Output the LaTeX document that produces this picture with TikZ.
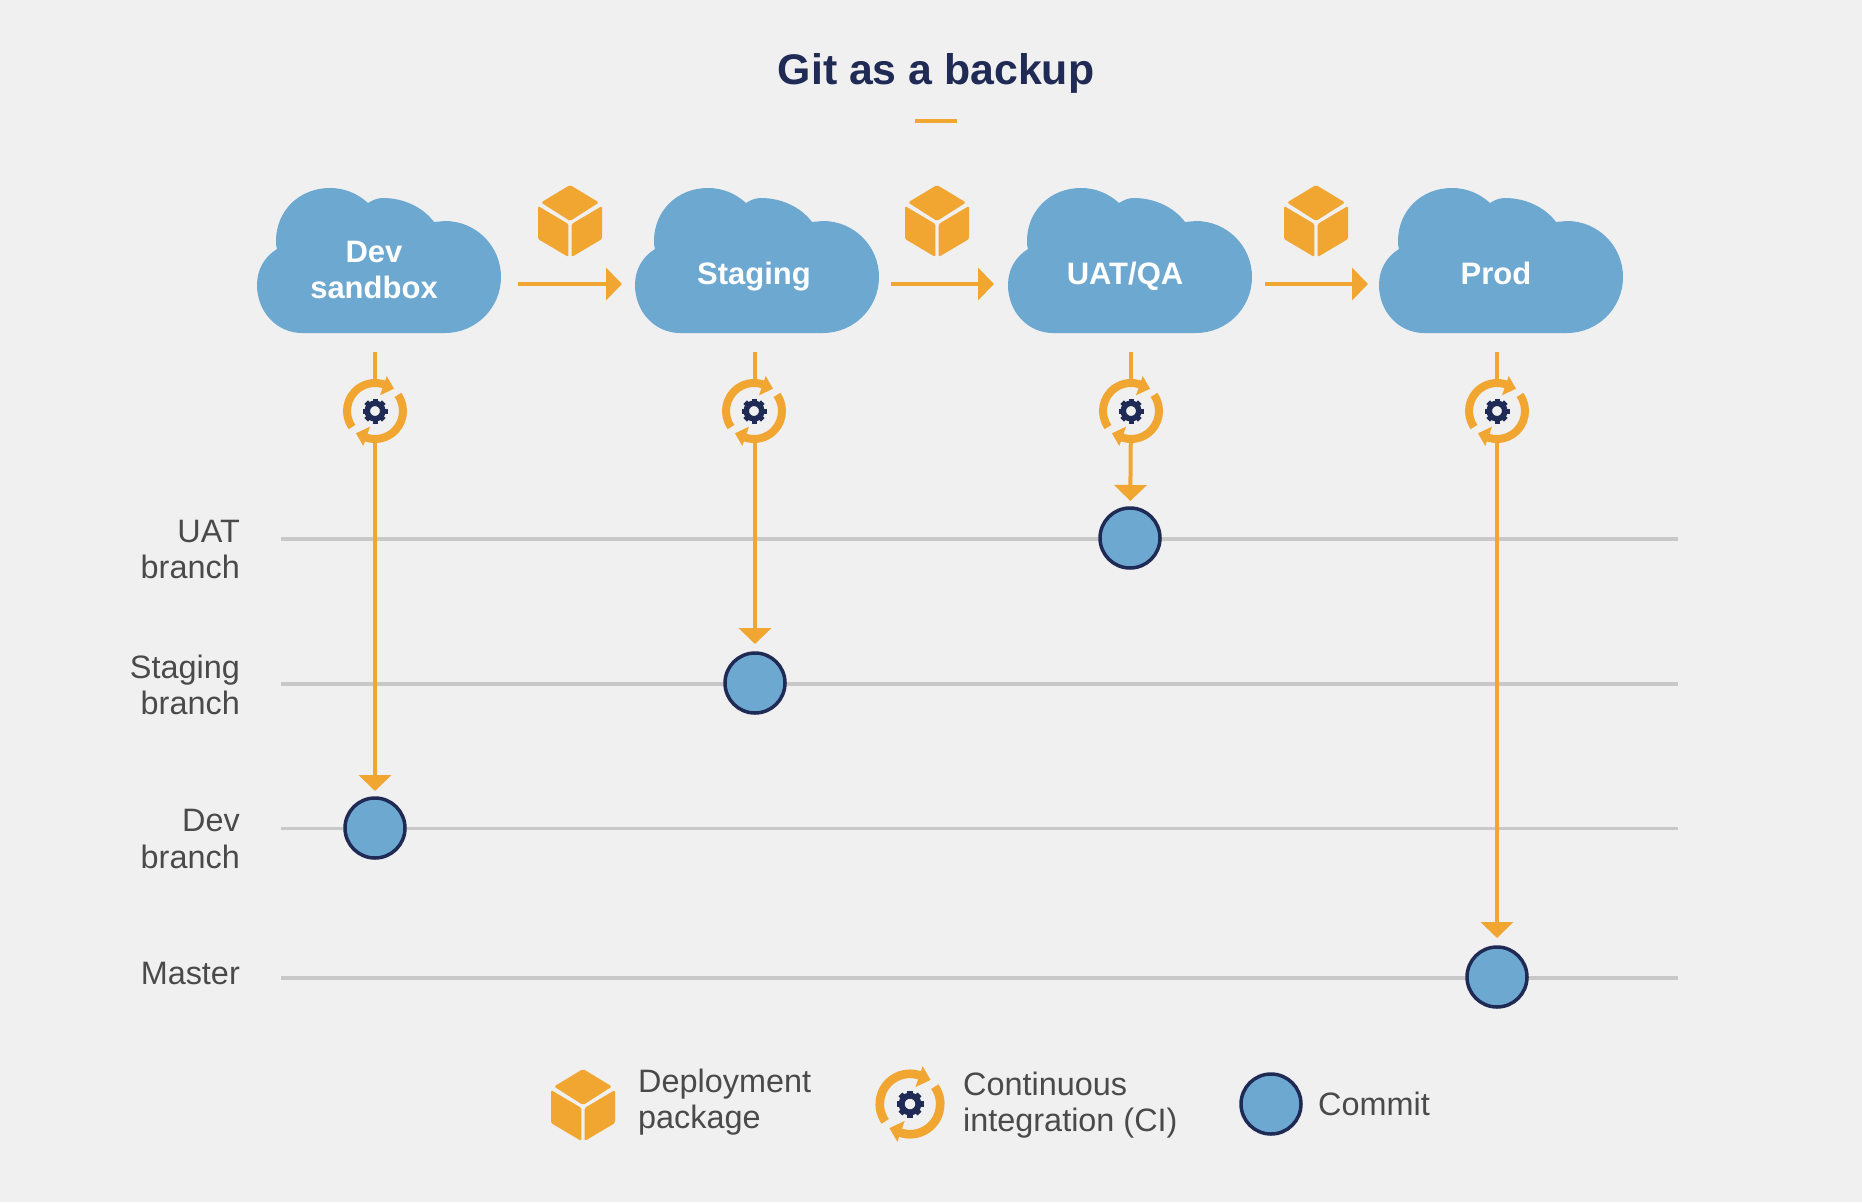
\documentclass[tikz,border=0pt]{standalone}
\usepackage{fontspec}
\setmainfont{Liberation Sans}
\usetikzlibrary{arrows.meta}
\definecolor{bgc}{HTML}{F0F0F0}
\definecolor{orangec}{HTML}{F0A630}
\definecolor{bluec}{HTML}{6DA8D0}
\definecolor{navyc}{HTML}{1F2A55}
\definecolor{greyl}{HTML}{C8C8C8}
\definecolor{textc}{HTML}{4A4A4A}
\tikzset{
  x=1pt,y=1pt,
  flow/.style={draw=orangec,line width=4pt,-{Triangle[length=16pt,width=32pt]}},
  stub/.style={draw=orangec,line width=4pt},
  branchline/.style={draw=greyl,line width=3.5pt},
  commit/.style={circle,draw=navyc,fill=bluec,line width=3.5pt,minimum size=60pt,inner sep=0pt,outer sep=0pt},
  cinode/.style={circle,minimum size=64pt,inner sep=0pt,outer sep=0pt},
  cloudbox/.style={rectangle,minimum width=244pt,minimum height=98pt,inner sep=0pt,outer sep=0pt},
  cloudtext/.style={text=white,font=\fontsize{31}{36.5}\selectfont\bfseries,align=center,inner sep=0pt},
  lbl/.style={text=textc,font=\fontsize{32.4}{36.5}\selectfont,inner sep=0pt},
  branchlbl/.style={lbl,align=right,anchor=east},
  leglbl/.style={lbl,align=left,anchor=west},
  cubeface/.style={fill=orangec,rounded corners=1.5pt},
}
\newcommand{\cloudshape}[1]{%
  \fill[bluec,shift={#1}] (45,0) -- (188,0) arc[start angle=-90,end angle=90,radius=56pt] -- (177,111)
    .. controls (166,126) and (146,135) .. (126,135)
    .. controls (120,135) and (116,133) .. (111,130)
    .. controls (100,140) and (87,145) .. (73,145)
    .. controls (42,145) and (19,122) .. (19,92)
    .. controls (19,89) and (19,87) .. (20,84)
    .. controls (7,76) and (0,63) .. (0,48)
    .. controls (0,21) and (20,0) .. (45,0) -- cycle;}
\newcommand{\cubeicon}[1]{%
  \begin{scope}[shift={#1}]
    \fill[cubeface] (0,36) -- (29,18.5) -- (0,0) -- (-29,18.5) -- cycle;
    \fill[cubeface] (-32,15) -- (-1.6,-3) -- (-1.6,-36) -- (-32,-18) -- cycle;
    \fill[cubeface] (32,15) -- (1.6,-3) -- (1.6,-36) -- (32,-18) -- cycle;
  \end{scope}}
\newcommand{\ciicon}[2]{%
  \begin{scope}[shift={#1},scale=#2]
    \draw[orangec,line width=#2*8pt] (215:28) arc[start angle=215,end angle=68,radius=28pt];
    \draw[orangec,line width=#2*8pt] (35:28) arc[start angle=35,end angle=-112,radius=28pt];
    \fill[orangec] (11.7,35) -- (19,22.3) -- (5,15.7) -- cycle;
    \fill[orangec] (-11.7,-35) -- (-19,-22.3) -- (-5,-15.7) -- cycle;
    \draw[navyc,line width=#2*5.5pt] (0,0) circle[radius=7.75pt];
    \foreach \a in {0,45,...,315}
      \draw[navyc,line width=#2*5pt] (\a:8) -- (\a:12.5);
  \end{scope}}
\begin{document}
\begin{tikzpicture}
\fill[bgc] (0,0) rectangle (1862,-1202);
\useasboundingbox (0,0) rectangle (1862,-1202);
% title
\node[text=navyc,font=\fontsize{42.8}{48}\selectfont\bfseries,inner sep=0pt,anchor=base] (title) at (936,-84) {Git as a backup};
\draw[orangec,line width=4.5pt] (915,-121) -- (957,-121);
% clouds
\cloudshape{(257,-333)}
\cloudshape{(635,-333)}
\cloudshape{(1008,-333)}
\cloudshape{(1379,-333)}
\node[cloudbox] (cl1) at (379,-284) {};
\node[cloudbox] (cl2) at (757,-284) {};
\node[cloudbox] (cl3) at (1130,-284) {};
\node[cloudbox] (cl4) at (1501,-284) {};
\node[cloudtext] (t1) at (374,-270) {Dev\\sandbox};
\node[cloudtext,anchor=base] (t2) at (754,-284) {Staging};
\node[cloudtext,anchor=base] (t3) at (1125,-284) {UAT/QA};
\node[cloudtext,anchor=base] (t4) at (1496,-284) {Prod};
% packages
\cubeicon{(570,-221)}
\cubeicon{(937,-221)}
\cubeicon{(1316,-221)}
% horizontal flow
\draw[flow,shorten <=17pt,shorten >=13pt] (cl1.east) -- (cl2.west);
\draw[flow,shorten <=12pt,shorten >=14pt] (cl2.east) -- (cl3.west);
\draw[flow,shorten <=13pt,shorten >=11pt] (cl3.east) -- (cl4.west);
% branch lines
\coordinate (b1l) at (281,-539); \coordinate (b1r) at (1678,-539);
\coordinate (b2l) at (281,-684); \coordinate (b2r) at (1678,-684);
\coordinate (b3l) at (281,-828.5); \coordinate (b3r) at (1678,-828.5);
\coordinate (b4l) at (281,-978); \coordinate (b4r) at (1678,-978);
\draw[branchline] (b1l) -- (b1r);
\draw[branchline] (b2l) -- (b2r);
\draw[branchline] (b3l) -- (b3r);
\draw[branchline] (b4l) -- (b4r);
\node[branchlbl] (l1) at (240,-549.5) {UAT\\branch};
\node[branchlbl] (l2) at (240,-685) {Staging\\branch};
\node[branchlbl] (l3) at (240,-839) {Dev\\branch};
\node[branchlbl,anchor=base east] (l4) at (240,-984) {Master};
% CI icons
\node[cinode] (ci1) at (375,-411) {};
\node[cinode] (ci2) at (755,-411) {};
\node[cinode] (ci3) at (1131,-411) {};
\node[cinode] (ci4) at (1497,-411) {};
\ciicon{(375,-411)}{1}
\ciicon{(754,-411)}{1}
\ciicon{(1131,-411)}{1}
\ciicon{(1497,-411)}{1}
% commits
\node[commit] (c1) at (375,-828) {};
\node[commit] (c2) at (755,-683) {};
\node[commit] (c3) at (1130,-538) {};
\node[commit] (c4) at (1497,-977) {};
% vertical flow
\draw[stub,shorten <=19pt] (cl1.south -| ci1) -- (ci1);
\draw[stub,shorten <=19pt] (cl2.south -| ci2) -- (ci2);
\draw[stub,shorten <=19pt] (cl3.south -| ci3) -- (ci3);
\draw[stub,shorten <=19pt] (cl4.south -| ci4) -- (ci4);
\draw[flow,shorten >=7pt] (ci1) -- (c1);
\draw[flow,shorten >=9pt] (ci2) -- (c2);
\draw[flow,shorten >=7pt] (ci3) -- (c3);
\draw[flow,shorten >=9pt] (ci4) -- (c4);
% legend
\cubeicon{(583,-1105)}
\node[leglbl] (lg1) at (638,-1102) {Deployment\\package};
\ciicon{(910,-1104)}{1.08}
\node[leglbl] (lg2) at (963,-1105) {Continuous\\integration (CI)};
\node[commit] (lgc) at (1271,-1104) {};
\node[leglbl,anchor=base west] (lg3) at (1318,-1115) {Commit};
\end{tikzpicture}
\end{document}
